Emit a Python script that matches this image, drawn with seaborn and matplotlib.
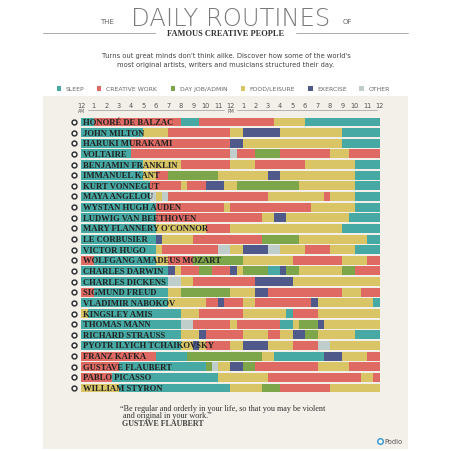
import matplotlib
matplotlib.use('Agg')
import matplotlib.pyplot as plt
from matplotlib.patches import Rectangle
from matplotlib.transforms import blended_transform_factory
import pandas as pd
import seaborn as sns

# %% data
people = [
    'HONORÉ DE BALZAC', 'JOHN MILTON', 'HARUKI MURAKAMI', 'VOLTAIRE',
    'BENJAMIN FRANKLIN', 'IMMANUEL KANT', 'KURT VONNEGUT', 'MAYA ANGELOU',
    'WYSTAN HUGH AUDEN', 'LUDWIG VAN BEETHOVEN', "MARY FLANNERY O'CONNOR",
    'LE CORBUSIER', 'VICTOR HUGO', 'WOLFGANG AMADEUS MOZART', 'CHARLES DARWIN',
    'CHARLES DICKENS', 'SIGMUND FREUD', 'VLADIMIR NABOKOV', 'KINGSLEY AMIS',
    'THOMAS MANN', 'RICHARD STRAUSS', 'PYOTR ILYICH TCHAIKOVSKY', 'FRANZ KAFKA',
    'GUSTAVE FLAUBERT', 'PABLO PICASSO', 'WILLIAM STYRON',
]

activities = ['SLEEP', 'CREATIVE WORK', 'DAY JOB/ADMIN', 'FOOD/LEISURE', 'EXERCISE', 'OTHER']
codes = ['S', 'C', 'D', 'F', 'E', 'O']
colors = ['#47a9a3', '#de6a63', '#7da54a', '#d9c566', '#4f5a8a', '#bfcecb']

# (start hour, activity code); each block runs until the next start (or midnight)
routines = [
    [(0, 'S'), (1, 'C'), (8, 'S'), (9.5, 'C'), (15.5, 'F'), (18, 'S')],
    [(0, 'S'), (5, 'F'), (7, 'C'), (12, 'F'), (13, 'E'), (16, 'F'), (21, 'S')],
    [(0, 'S'), (4, 'C'), (12, 'E'), (13, 'F'), (21, 'S')],
    [(0, 'S'), (4, 'C'), (12, 'O'), (12.5, 'C'), (14, 'D'), (16, 'C'), (20, 'F'), (21.5, 'C')],
    [(0, 'S'), (5, 'F'), (8, 'C'), (12, 'F'), (14, 'C'), (18, 'F'), (22, 'S')],
    [(0, 'S'), (5, 'F'), (6, 'C'), (7, 'D'), (11, 'F'), (15, 'E'), (16, 'F'), (22, 'S')],
    [(0, 'S'), (5.5, 'C'), (8, 'F'), (8.5, 'C'), (10, 'E'), (11.5, 'F'), (12.5, 'D'), (17.5, 'F'), (22, 'S')],
    [(0, 'S'), (5.5, 'O'), (6, 'F'), (6.5, 'O'), (7, 'C'), (15, 'F'), (19.5, 'C'), (20, 'F'), (22, 'S')],
    [(0, 'S'), (6, 'C'), (11.5, 'F'), (12, 'C'), (18.5, 'F'), (22, 'S')],
    [(0, 'S'), (6, 'C'), (14.5, 'F'), (15.5, 'E'), (16.5, 'F'), (21.5, 'S')],
    [(0, 'S'), (6, 'F'), (10, 'C'), (12, 'F'), (21, 'S')],
    [(0, 'S'), (6, 'E'), (6.5, 'F'), (9, 'C'), (14.5, 'D'), (17.5, 'F'), (23, 'S')],
    [(0, 'S'), (6, 'F'), (6.5, 'C'), (11, 'O'), (12, 'F'), (13, 'E'), (15, 'O'), (16, 'F'), (18, 'C'), (20, 'F'), (22, 'S')],
    [(0, 'C'), (1, 'S'), (6, 'F'), (7, 'C'), (9, 'D'), (13, 'F'), (17, 'C'), (21, 'F'), (23, 'C')],
    [(0, 'S'), (7, 'E'), (7.5, 'F'), (8, 'C'), (9.5, 'D'), (10.5, 'C'), (12, 'E'), (12.5, 'F'), (13, 'D'),
     (15, 'S'), (16, 'E'), (16.5, 'D'), (17.5, 'F'), (21, 'D'), (22, 'C')],
    [(0, 'S'), (7, 'O'), (8, 'F'), (9, 'C'), (14, 'E'), (17, 'F')],
    [(0, 'C'), (1, 'S'), (7, 'F'), (8, 'D'), (12, 'F'), (14, 'E'), (15, 'C'), (21, 'F'), (22.5, 'C')],
    [(0, 'S'), (7, 'F'), (10, 'C'), (11, 'E'), (11.5, 'C'), (13, 'F'), (14, 'C'), (18.5, 'E'), (19, 'F'), (23.5, 'S')],
    [(0, 'F'), (0.5, 'S'), (8, 'F'), (9.5, 'C'), (13, 'F'), (16.5, 'S'), (17, 'C'), (19, 'F')],
    [(0, 'S'), (8, 'O'), (9, 'C'), (12, 'F'), (12.5, 'C'), (16, 'S'), (17, 'F'), (17.5, 'D'), (19, 'E'), (19.5, 'F')],
    [(0, 'S'), (8, 'F'), (9.5, 'E'), (10, 'C'), (13, 'F'), (15, 'C'), (16, 'F'), (17, 'E'), (18, 'D'), (19, 'F'), (22, 'S')],
    [(0, 'S'), (8, 'F'), (9, 'E'), (9.5, 'F'), (10, 'C'), (12, 'F'), (13, 'E'), (15, 'F'), (17, 'C'), (19, 'O'), (20, 'F')],
    [(0, 'C'), (6, 'S'), (8.5, 'D'), (14.5, 'F'), (15.5, 'S'), (19.5, 'E'), (21, 'F'), (23, 'C')],
    [(0, 'C'), (3, 'S'), (10, 'D'), (10.5, 'O'), (11, 'F'), (12, 'E'), (13, 'D'), (14, 'C'), (19, 'F'), (21.5, 'C')],
    [(0, 'C'), (2.5, 'S'), (11, 'F'), (15, 'C'), (22.5, 'F'), (23.5, 'C')],
    [(0, 'F'), (3, 'S'), (12, 'F'), (14.5, 'D'), (16, 'C'), (20, 'F')],
]

hour_labels = ['12'] + [str(h) for h in range(1, 12)] + ['12'] + [str(h) for h in range(1, 12)] + ['12']

# %% segments table
rows = []
for i, blocks in enumerate(routines):
    for j, (start, code) in enumerate(blocks):
        end = blocks[j + 1][0] if j + 1 < len(blocks) else 24
        rows.append({'row': i, 'start': start, 'end': end, 'code': code})
seg = pd.DataFrame(rows)
seg['dur'] = seg['end'] - seg['start']

# %% style
sns.set_theme(style='white')
plt.rcParams['font.family'] = ['DejaVu Sans']
pal = dict(zip(codes, sns.color_palette(colors)))

W = 452
def fx(px):
    return px / W
def fy(py):
    return 1 - py / W

fig = plt.figure(figsize=(4.52, 4.52), dpi=100)
fig.patch.set_facecolor('white')
fig.patches.append(Rectangle((fx(43), fy(450)), fx(408) - fx(43), fy(97) - fy(450),
                             transform=fig.transFigure, facecolor='#f3f0e9',
                             edgecolor='none', zorder=-10))

# header
fig.text(fx(107), fy(24.5), 'THE', ha='center', va='baseline', fontsize=5, color='#666')
fig.text(fx(230.5), fy(26), 'DAILY ROUTINES', ha='center', va='baseline', fontsize=17.5,
         fontweight='light', color='#7a7a7a')
fig.text(fx(347.5), fy(24.5), 'OF', ha='center', va='baseline', fontsize=5, color='#666')
fig.add_artist(plt.Line2D([fx(43), fx(155)], [fy(33.8)] * 2, color='#aaaaaa', lw=0.7))
fig.add_artist(plt.Line2D([fx(296), fx(408)], [fy(33.8)] * 2, color='#aaaaaa', lw=0.7))
fig.text(fx(225.5), fy(34), 'FAMOUS CREATIVE PEOPLE', ha='center', va='center',
         fontsize=6, fontweight='bold', family='Liberation Serif', color='#333')
fig.text(fx(226), fy(55.7), "Turns out great minds don't think alike. Discover how some of the world's",
         ha='center', va='center', fontsize=4.9, color='#444')
fig.text(fx(225.5), fy(64.5), 'most original artists, writers and musicians structured their day.',
         ha='center', va='center', fontsize=4.9, color='#444')

# legend
leg_x = [56.7, 96.7, 170.7, 240.7, 308.3, 359.3]
for lx, lab, c in zip(leg_x, activities, colors):
    fig.patches.append(Rectangle((fx(lx), fy(91.5)), fx(4.4), fx(4.4),
                                 transform=fig.transFigure, facecolor=c, edgecolor='none'))
    fig.text(fx(lx + 9), fy(89.5), lab, ha='left', va='center', fontsize=4.4, color='#666')

# %% chart
ax = fig.add_axes([fx(81.3), fy(394.3), (379.7 - 81.3) / W, (394.3 - 117.7) / W])
ax.set_zorder(5)
ax.patch.set_alpha(0)
for code, grp in seg.groupby('code'):
    ax.barh(grp['row'], grp['dur'], left=grp['start'], height=0.84,
            color=pal[code], edgecolor='none', zorder=2)

ax.set_xlim(0, 24)
ax.set_ylim(len(people) - 0.5, -0.5)
ax.set_xticks(range(25))
ax.set_xticklabels(hour_labels)
ax.xaxis.tick_top()
ax.tick_params(axis='x', length=0, pad=6.3, labelsize=4.8, labelcolor='#555')
ax.set_yticks([])
sns.despine(ax=ax, left=True, bottom=True)
ax.spines['top'].set_visible(False)

for i, name in enumerate(people):
    ax.text(0.15, i, name, ha='left', va='center', fontsize=6.2, fontweight='bold',
            family='Liberation Serif', color='#222', zorder=3)

ax.scatter([-0.59] * len(people), range(len(people)), s=12, facecolor='white',
           edgecolor='#333', linewidth=1.1, clip_on=False, zorder=3)

trans = blended_transform_factory(ax.transData, fig.transFigure)
ax.text(0, fy(111.7), 'AM', transform=trans, ha='center', va='center', fontsize=3.3, color='#555')
ax.text(12, fy(111.7), 'PM', transform=trans, ha='center', va='center', fontsize=3.3, color='#555')
ax.plot([0.5, 11.5], [fy(110.8)] * 2, transform=trans, color='#999', lw=0.5, clip_on=False)
ax.plot([12.5, 23.8], [fy(110.8)] * 2, transform=trans, color='#999', lw=0.5, clip_on=False)

# quote + logo
fig.text(fx(120), fy(409), '\u201cBe regular and orderly in your life, so that you may be violent',
         ha='left', va='center', fontsize=5.9, family='Liberation Serif', color='#333')
fig.text(fx(123), fy(416), 'and original in your work.\u201d',
         ha='left', va='center', fontsize=5.9, family='Liberation Serif', color='#333')
fig.text(fx(122.5), fy(424), 'GUSTAVE FLAUBERT', ha='left', va='center', fontsize=5.8,
         fontweight='bold', family='Liberation Serif', color='#444')
fig.add_artist(plt.Line2D([fx(380)], [fy(441.7)], marker='o', markersize=4, markerfacecolor='white',
                          markeredgecolor='#3d9ad1', markeredgewidth=1.1))
fig.text(fx(384), fy(441.7), 'Podio', ha='left', va='center', fontsize=4.8, color='#555')

fig.savefig('out.png', dpi=100, facecolor='white')
